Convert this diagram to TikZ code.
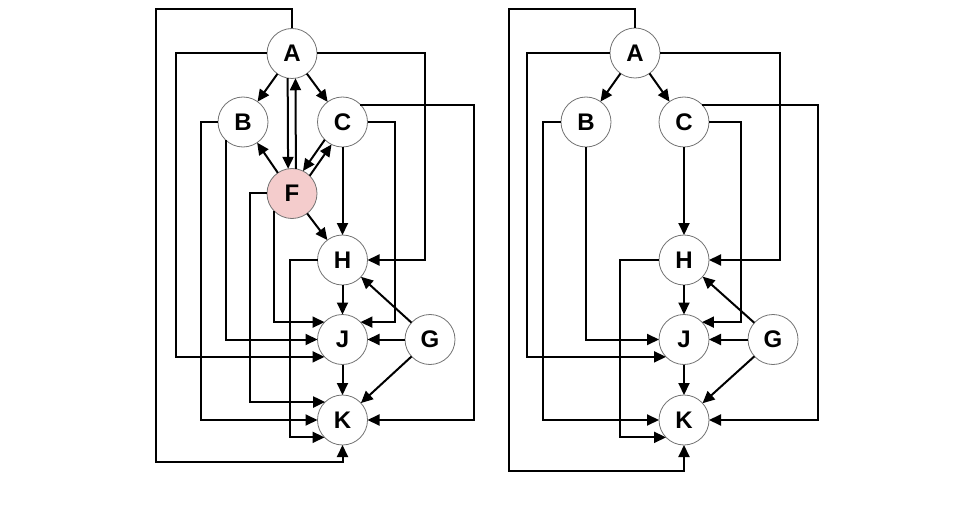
\documentclass[tikz,border=0pt]{standalone}
\usepackage{fontspec}
\setmainfont{Liberation Sans}
\usetikzlibrary{arrows.meta}
\definecolor{faultpink}{RGB}{244,204,204}
\definecolor{ringgray}{RGB}{115,115,115}
\begin{document}
\begin{tikzpicture}[x=1pt,y=-1pt,font=\fontsize{24}{24}\selectfont\bfseries]
  \tikzstyle{vertex}=[circle,draw=ringgray,line width=0.8pt,fill=white,minimum size=50pt,inner sep=0pt,outer sep=0pt]
  \tikzstyle{fault vertex}=[vertex,fill=faultpink]
  \tikzstyle{arc}=[line width=2pt,-{Triangle[length=12pt,width=11pt]}]

  \useasboundingbox (0,0) rectangle (975,508);

  % left graph, with F
  \node(A1)[vertex] at (292,53.5) {A};
  \node(B1)[vertex] at (243,122) {B};
  \node(C1)[vertex] at (342.5,122) {C};
  \node(F1)[fault vertex] at (292,193.5) {F};
  \node(H1)[vertex] at (342.5,260) {H};
  \node(J1)[vertex] at (342.5,339.5) {J};
  \node(G1)[vertex] at (430,339.5) {G};
  \node(K1)[vertex] at (342.5,420) {K};

  \draw[arc] (A1) -- (B1);
  \draw[arc] (A1) -- (C1);
  \draw[arc] (A1.260.8) -- (F1.99.2);
  \draw[arc] (F1.81.2) -- (A1.278.8);
  \draw[arc] (F1) -- (B1);
  \draw[arc] (C1.225.4) -- (F1.64.2);
  \draw[arc] (F1.45.4) -- (C1.244.2);
  \draw[arc] (F1) -- (H1);
  \draw[arc] (C1) -- (H1);
  \draw[arc] (H1) -- (J1);
  \draw[arc] (J1) -- (K1);
  \draw[arc] (G1) -- (H1);
  \draw[arc] (G1) -- (J1);
  \draw[arc] (G1) -- (K1);
  \draw[arc] (A1.north) |- (156,9) |- (0,462 -| K1.south) -- (K1.south);
  \draw[arc] (A1.west) -- (176,0 |- A1.west) |- (J1.224);
  \draw[arc] (A1.east) -- (425,0 |- A1.east) |- (H1.east);
  \draw[arc] (B1.west) -- (201,0 |- B1.west) |- (K1.west);
  \draw[arc] (B1.227) |- (J1.west);
  \draw[arc] (C1.44) -- (474,0 |- C1.44) |- (K1.east);
  \draw[arc] (C1.east) -- (395,0 |- C1.east) |- (J1.44);
  \draw[arc] (F1.west) -- (250,0 |- F1.west) |- (K1.134);
  \draw[arc] (F1.224) |- (J1.136);
  \draw[arc] (H1.west) -- (290,0 |- H1.west) |- (K1.224);

  % right graph, F removed
  \node(A2)[vertex] at (635,53) {A};
  \node(B2)[vertex] at (586,122) {B};
  \node(C2)[vertex] at (684,122) {C};
  \node(H2)[vertex] at (684,260) {H};
  \node(J2)[vertex] at (684,339.5) {J};
  \node(G2)[vertex] at (773,339.5) {G};
  \node(K2)[vertex] at (684,420) {K};

  \draw[arc] (A2) -- (B2);
  \draw[arc] (A2) -- (C2);
  \draw[arc] (C2) -- (H2);
  \draw[arc] (H2) -- (J2);
  \draw[arc] (J2) -- (K2);
  \draw[arc] (G2) -- (H2);
  \draw[arc] (G2) -- (J2);
  \draw[arc] (G2) -- (K2);
  \draw[arc] (A2.north) |- (509,9) |- (0,470.5 -| K2.south) -- (K2.south);
  \draw[arc] (A2.west) -- (527,0 |- A2.west) |- (J2.224);
  \draw[arc] (A2.east) -- (780,0 |- A2.east) |- (H2.east);
  \draw[arc] (B2.west) -- (543,0 |- B2.west) |- (K2.west);
  \draw[arc] (B2.south) |- (J2.west);
  \draw[arc] (C2.44) -- (818,0 |- C2.44) |- (K2.east);
  \draw[arc] (C2.east) -- (741,0 |- C2.east) |- (J2.44);
  \draw[arc] (H2.west) -- (620,0 |- H2.west) |- (K2.224);
\end{tikzpicture}
\end{document}
